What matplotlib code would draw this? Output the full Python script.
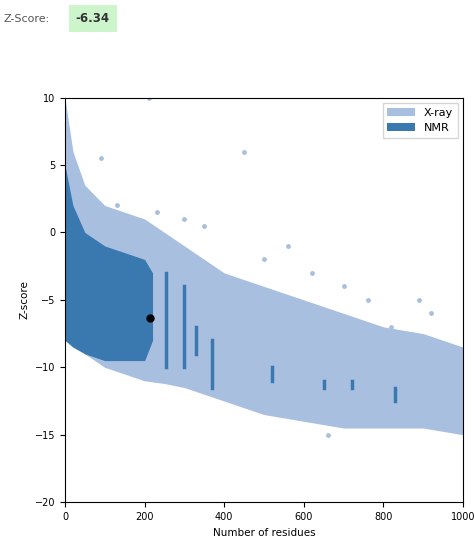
import numpy as np
import matplotlib.pyplot as plt

# X-ray cloud envelope
xray_x = [0, 20, 50, 100, 150, 200, 250, 300, 400, 500, 600, 700, 800, 900, 1000]
xray_hi = [10, 6, 3.5, 2, 1.5, 1, 0, -1, -3, -4, -5, -6, -7, -7.5, -8.5]
xray_lo = [-5, -8, -9, -10, -10.5, -11, -11.2, -11.5, -12.5, -13.5, -14, -14.5, -14.5, -14.5, -15]

# NMR cloud envelope
nmr_x = [0, 20, 50, 100, 150, 200, 220]
nmr_hi = [5, 2, 0, -1, -1.5, -2, -3]
nmr_lo = [-8, -8.5, -9, -9.5, -9.5, -9.5, -8]

# NMR vertical streaks (x, top, bottom)
nmr_streaks = [(255, -3, -10), (300, -4, -10), (330, -7, -9), (370, -8, -11.5),
               (520, -10, -11), (650, -11, -11.5), (830, -11.5, -12.5), (720, -11, -11.5)]

# scattered outliers
out_x = [90, 130, 210, 230, 300, 350, 450, 500, 560, 620, 700, 760, 820, 890, 920, 960, 990, 660, 540]
out_y = [5.5, 2, 10, 1.5, 1, 0.5, 6, -2, -1, -3, -4, -5, -7, -5, -6, -9, -11, -15, -12]

query_x, query_y = 214, -6.34

light = '#a8bfe0'
dark = '#3a78b0'

fig = plt.figure(figsize=(4.74, 5.36), dpi=100)
ax = fig.add_axes([0.137, 0.063, 0.840, 0.755])

ax.fill_between(xray_x, xray_lo, xray_hi, color=light, lw=0, label='X-ray')
ax.scatter(out_x, out_y, s=6, color=light)
ax.fill_between(nmr_x, nmr_lo, nmr_hi, color=dark, lw=0, label='NMR')
for sx, top, bot in nmr_streaks:
    ax.plot([sx, sx], [bot, top], color=dark, lw=2.5)
ax.plot(query_x, query_y, 'o', color='black', ms=5)

ax.set_xlim(0, 1000)
ax.set_ylim(-20, 10)
ax.set_xticks([0, 200, 400, 600, 800, 1000])
ax.set_yticks(range(-20, 11, 5))
ax.tick_params(labelsize=7)
ax.set_xlabel('Number of residues', fontsize=7.5)
ax.set_ylabel('Z-score', fontsize=7.5)
ax.legend(loc='upper right', fontsize=8, handlelength=2.5, fancybox=False)

fig.text(0.008, 0.965, 'Z-Score:', fontsize=8, color='#555555', va='center')
fig.text(0.16, 0.965, '-6.34', fontsize=8.5, fontweight='bold', color='#333333', va='center',
         bbox=dict(boxstyle='square,pad=0.6', facecolor='#ccf5cc', edgecolor='none'))

fig.savefig('out.png', dpi=100)
